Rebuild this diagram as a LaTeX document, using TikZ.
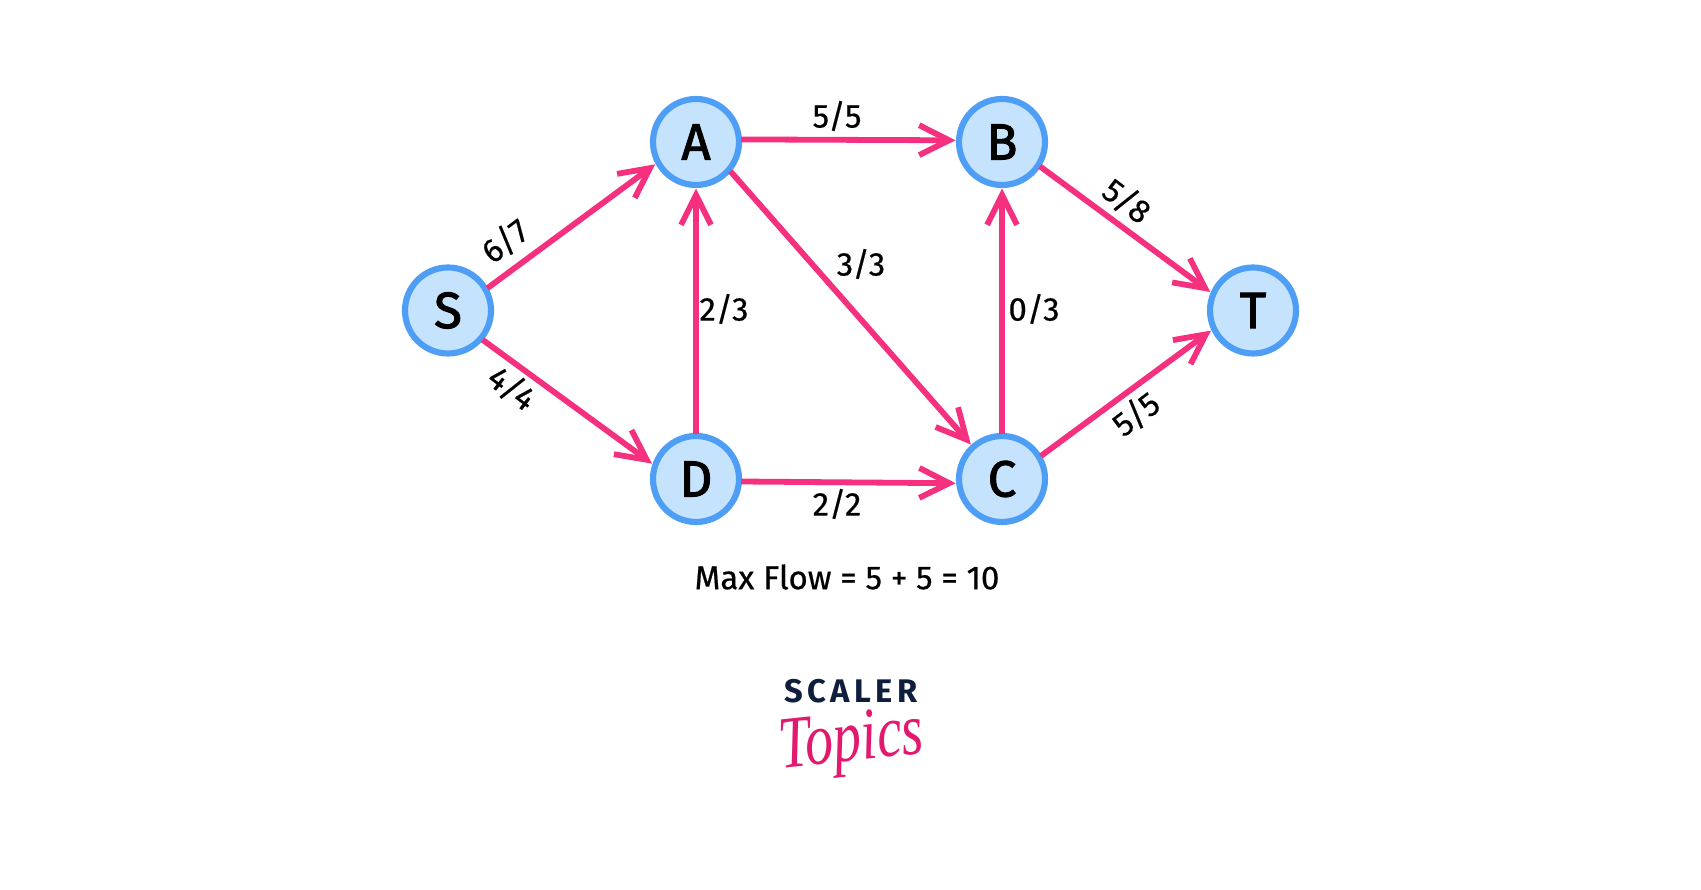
\documentclass[tikz,border=0pt]{standalone}
\usepackage{fontspec}
\setmainfont{Fira Sans}
\newfontfamily\labelfont{Fira Sans}[FakeBold=0.5]
\newfontfamily\vertexfont{Fira Sans}[FakeBold=2]
\newfontfamily\logofont{Liberation Serif}
\usetikzlibrary{arrows.meta,positioning}
\definecolor{nodeblue}{RGB}{79,158,245}
\definecolor{nodebg}{RGB}{197,227,253}
\definecolor{flowpink}{RGB}{245,49,127}
\definecolor{logopink}{RGB}{226,26,110}
\definecolor{logonavy}{RGB}{15,30,60}
\begin{document}
\begin{tikzpicture}[
  vertex/.style={circle,draw=nodeblue,fill=nodebg,line width=1.75pt,
                 minimum size=0.86cm,inner sep=0pt,outer sep=1.6pt,
                 font=\fontsize{14.5}{15}\vertexfont,text=black},
  flow/.style={-{Straight Barb[length=8.5pt,width=8.5pt]},line width=1.65pt,
               color=flowpink,shorten >=-0.6pt,shorten <=-1pt},
  flowlabel/.style={font=\fontsize{9.4}{11}\labelfont,text=black,inner sep=0pt}]
\useasboundingbox (0,0) rectangle (17.01,8.90);
\node[vertex] (s) at (4.48,5.795) {S};
\node[vertex] (a) at (6.96,7.48) {A};
\node[vertex] (b) at (10.02,7.48) {B};
\node[vertex] (t) at (12.53,5.795) {T};
\node[vertex] (d) at (6.96,4.11) {D};
\node[vertex] (c) at (10.02,4.11) {C};
\draw[flow] (s.30)--(a.209);
\draw[flow] (s.-40)--(d.160);
\draw[flow] (d.90)--(a.-90);
\draw[flow] (a.3)--(b.178);
\draw[flow] (d.-3)--(c.185);
\draw[flow] (a.-41)--(c.132);
\draw[flow] (c.90)--(b.-90);
\draw[flow] (b.-33)--(t.156);
\draw[flow] (c.31)--(t.-154);
\node[flowlabel,rotate=37] (lsa) at (5.05,6.49) {6/7};
\node[flowlabel,rotate=-37] (lsd) at (5.12,5.02) {4/4};
\node[flowlabel] (lda) at (7.24,5.81) {2/3};
\node[flowlabel] (lab) at (8.37,7.74) {5/5};
\node[flowlabel] (ldc) at (8.37,3.86) {2/2};
\node[flowlabel] (lac) at (8.61,6.26) {3/3};
\node[flowlabel] (lcb) at (10.34,5.81) {0/3};
\node[flowlabel,rotate=-37] (lbt) at (11.27,6.89) {5/8};
\node[flowlabel,rotate=37] (lct) at (11.36,4.76) {5/5};
\node[flowlabel] (result) at (8.47,3.13) {Max Flow = 5 + 5 = 10};
\node[font=\fontsize{9.3}{11}\selectfont\bfseries,text=logonavy,inner sep=0pt] (scaler) at (8.51,1.99)
  {S\kern1.3pt C\kern1.3pt A\kern1.3pt L\kern1.3pt E\kern1.3pt R};
\node[font=\fontsize{21}{24}\logofont\itshape,text=logopink,inner sep=0pt,rotate=6,xscale=.76] (topics) at (8.52,1.46) {Topics};
\end{tikzpicture}
\end{document}
